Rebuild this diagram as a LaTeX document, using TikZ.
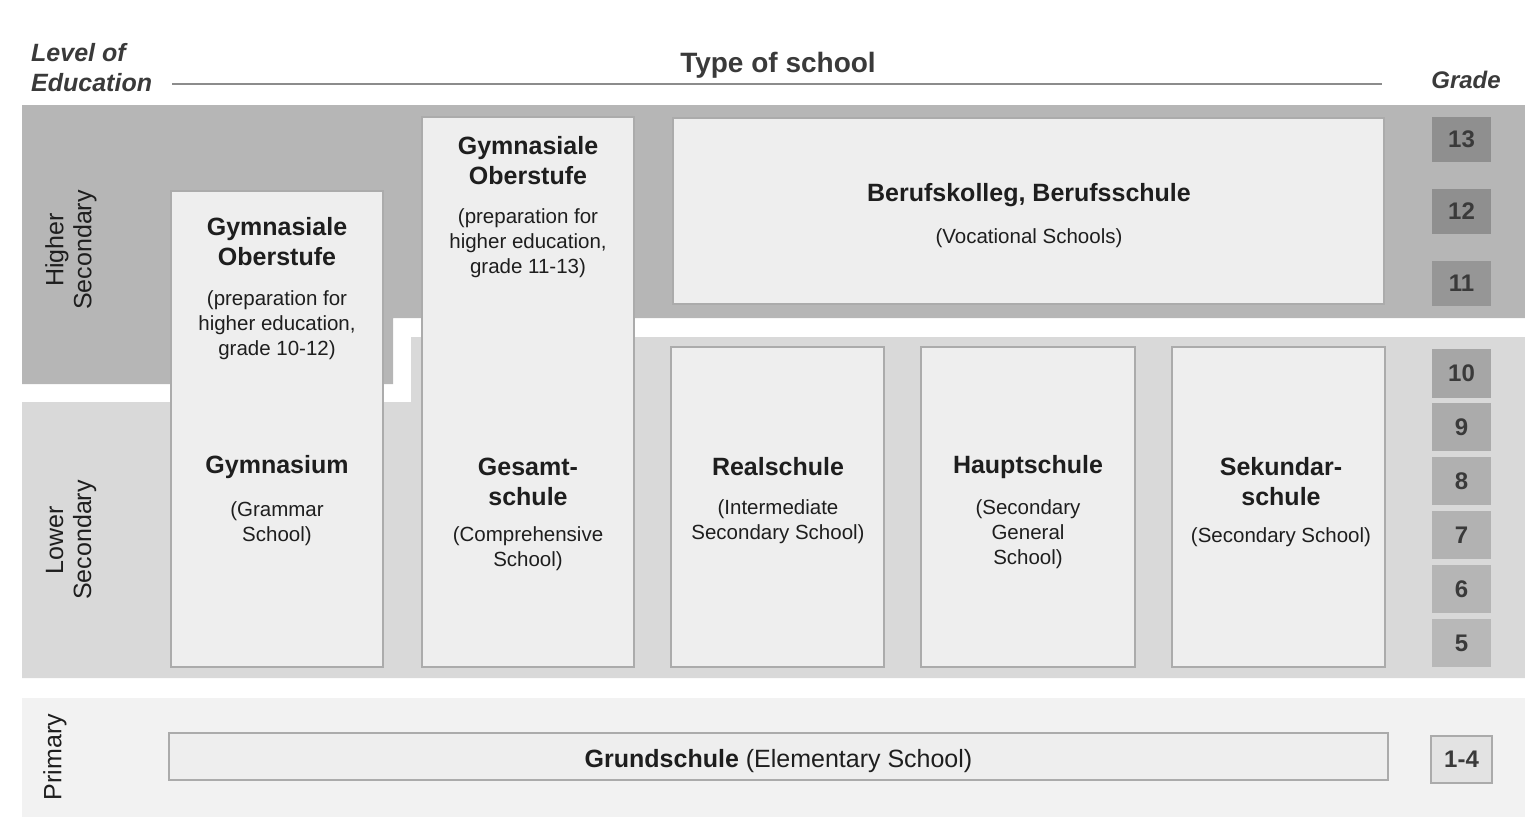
\documentclass[tikz,border=0pt]{standalone}
\usepackage{fontspec}
\setmainfont{Liberation Sans}
\setsansfont{Liberation Sans}
\definecolor{hsband}{HTML}{B6B6B6}
\definecolor{lsband}{HTML}{D9D9D9}
\definecolor{pband}{HTML}{F2F2F2}
\definecolor{boxfill}{HTML}{EEEEEE}
\definecolor{boxline}{HTML}{ABABAB}
\definecolor{txt}{HTML}{1E1E1E}
\definecolor{headtxt}{HTML}{3A3A3A}
\tikzset{
  schoolbox/.style={draw=boxline, fill=boxfill, line width=1.5pt, inner sep=0pt},
  title/.style={font=\fontsize{25}{30}\selectfont\bfseries, align=center, text=txt, inner sep=0pt, yshift=-3pt},
  note/.style={font=\fontsize{20.5}{25}\selectfont, align=center, text=txt, inner sep=0pt, yshift=-3pt},
  level/.style={rotate=90, font=\fontsize{25}{28}\selectfont, align=center, text=txt, inner sep=0pt},
  gradebox/.style={minimum width=59pt, inner sep=0pt, font=\fontsize{24}{24}\selectfont\bfseries, text=headtxt}
}
\begin{document}
\begin{tikzpicture}[x=1pt, y=-1pt, font=\sffamily]
        \useasboundingbox (0,0) rectangle (1525,817);
        % bands
        \fill[hsband] (22,105) -- (1525,105) -- (1525,318) -- (393,318) -- (393,384) -- (22,384) -- cycle;
        \fill[lsband] (22,402) -- (411,402) -- (411,337) -- (1525,337) -- (1525,678) -- (22,678) -- cycle;
        \fill[pband] (22,698) rectangle (1525,817);

        % header
        \node[anchor=west, align=left, inner sep=0pt, text=headtxt, font=\fontsize{25}{30}\selectfont\bfseries\itshape] (level) at (31,68) {Level of\\Education};
        \node[inner sep=0pt, text=headtxt, font=\fontsize{28}{30}\selectfont\bfseries] (type) at (778,65) {Type of school};
        \node[inner sep=0pt, text=headtxt, font=\fontsize{24}{26}\selectfont\bfseries\itshape] (grade) at (1466,80) {Grade};
        \coordinate (rule west) at (172,84);
        \coordinate (rule east) at (1382,84);
        \draw[black!45, line width=1.3pt] (rule west) -- (rule east);

        % levels
        \node[level] (higher) at (71,250) {Higher\\Secondary};
        \node[level] (lower) at (71,540) {Lower\\Secondary};
        \node[level] (primary) at (55,757) {Primary};

        % schools
        \node[schoolbox, minimum width=212pt, minimum height=476pt] (gym) at (277,429) {};
        \node[schoolbox, minimum width=212pt, minimum height=550pt] (gesamt) at (528,392) {};
        \node[schoolbox, minimum width=711pt, minimum height=186pt] (beruf) at (1028.5,211) {};
        \node[schoolbox, minimum width=213pt, minimum height=320pt] (real) at (777.5,507) {};
        \node[schoolbox, minimum width=214pt, minimum height=320pt] (haupt) at (1028,507) {};
        \node[schoolbox, minimum width=213pt, minimum height=320pt] (sek) at (1278.5,507) {};
        \node[schoolbox, minimum width=1219pt, minimum height=47pt] (grund) at (778.5,756.5) {};

        \node[title] (gym ober) at (277,239) {Gymnasiale\\Oberstufe};
        \node[note] (gym prep) at (277,322) {(preparation for\\higher education,\\grade 10-12)};
        \node[title] (gym title) at (277,464) {Gymnasium};
        \node[note] (gym note) at (277,521) {(Grammar\\School)};

        \node[title] (gesamt ober) at (528,158) {Gymnasiale\\Oberstufe};
        \node[note] (gesamt prep) at (528,240) {(preparation for\\higher education,\\grade 11-13)};
        \node[title] (gesamt title) at (528,479) {Gesamt-\\schule};
        \node[note] (gesamt note) at (528,546) {(Comprehensive\\School)};

        \node[title] (beruf title) at (1029,192) {Berufskolleg, Berufsschule};
        \node[note] (beruf note) at (1029,235) {(Vocational Schools)};

        \node[title] (real title) at (778,464) {Realschule};
        \node[note] (real note) at (778,518.5) {(Intermediate\\Secondary School)};
        \node[title] (haupt title) at (1028,464) {Hauptschule};
        \node[note] (haupt note) at (1028,531) {(Secondary\\General\\School)};
        \node[title] (sek title) at (1281,479) {Sekundar-\\schule};
        \node[note] (sek note) at (1281,534) {(Secondary School)};

        \node[inner sep=0pt, text=txt, font=\fontsize{25}{30}\selectfont, yshift=-3pt] (grund text) at (778.5,758) {\textbf{Grundschule} (Elementary School)};

        % grades
        \foreach \g/\y/\h/\s in {13/139.5/45/44, 12/211.5/45/44, 11/283.5/45/41,
                                 10/373.5/49/35, 9/427/48/33, 8/481/48/31,
                                 7/535/48/30, 6/589/48/29, 5/643/48/28} {
          \node[gradebox, fill=black!\s, minimum height=\h pt] (g\g) at (1461.5,\y) {\g};
        }
        \node[gradebox, draw=boxline, line width=1.5pt, fill=black!11, minimum width=61pt, minimum height=47pt] (g1-4) at (1461.5,759.5) {1-4};
\end{tikzpicture}
\end{document}
